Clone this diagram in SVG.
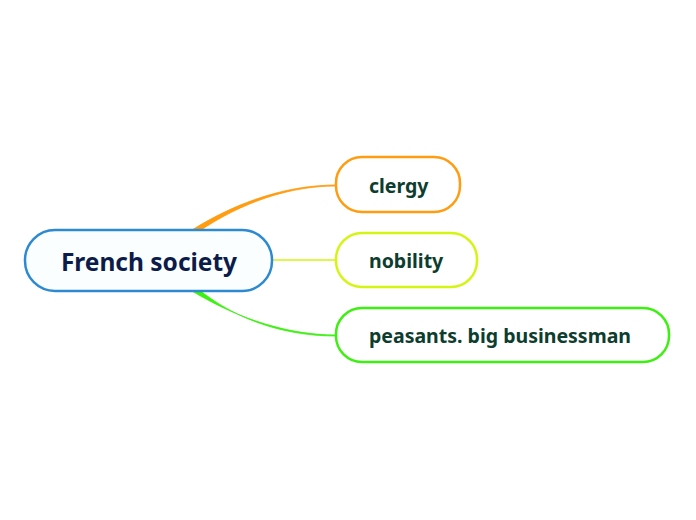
<svg xmlns="http://www.w3.org/2000/svg" width="696" height="520" viewBox="0 0 696 520">
<style>
.n rect{fill:#fff;stroke-width:2.5}
.n text{font-family:"Noto Sans","Open Sans",sans-serif;font-weight:bold;font-size:19.5px;fill:#0d3d2e;dominant-baseline:central}
</style>
<rect width="696" height="520" fill="#fff"/>
<g id="connectors">
<path d="M192,230 C240,200 290,185 336,185 L336,186 C290,186 242,202 198,232 Z" fill="#ff9c10" stroke="#ff9c10" stroke-width="0.8"/>
<path d="M272,260 L336,260" stroke="#d4f512" stroke-width="1.5" fill="none"/>
<path d="M192,291 C240,320 290,335 336,335 L336,336 C290,336 240,323 198,289 Z" fill="#3cf010" stroke="#3cf010" stroke-width="0.8"/>
</g>
<g id="root" class="n"><rect x="25" y="230" width="247" height="61" rx="30" style="fill:#fbfefe;stroke:#2d8ad0"/><text x="149" y="261" text-anchor="middle" style="font-size:24.5px;fill:#0b1c4a">French society</text></g>
<g id="clergy" class="n"><rect x="336" y="157" width="124" height="55" rx="26" style="stroke:#ff9c10"/><text x="369" y="185">clergy</text></g>
<g id="nobility" class="n"><rect x="336" y="233" width="141" height="54" rx="26" style="stroke:#d4f512"/><text x="369" y="260">nobility</text></g>
<g id="peasants" class="n"><rect x="336" y="308" width="333" height="54" rx="26" style="stroke:#3cf010"/><text x="369" y="335">peasants. big businessman</text></g>
</svg>
